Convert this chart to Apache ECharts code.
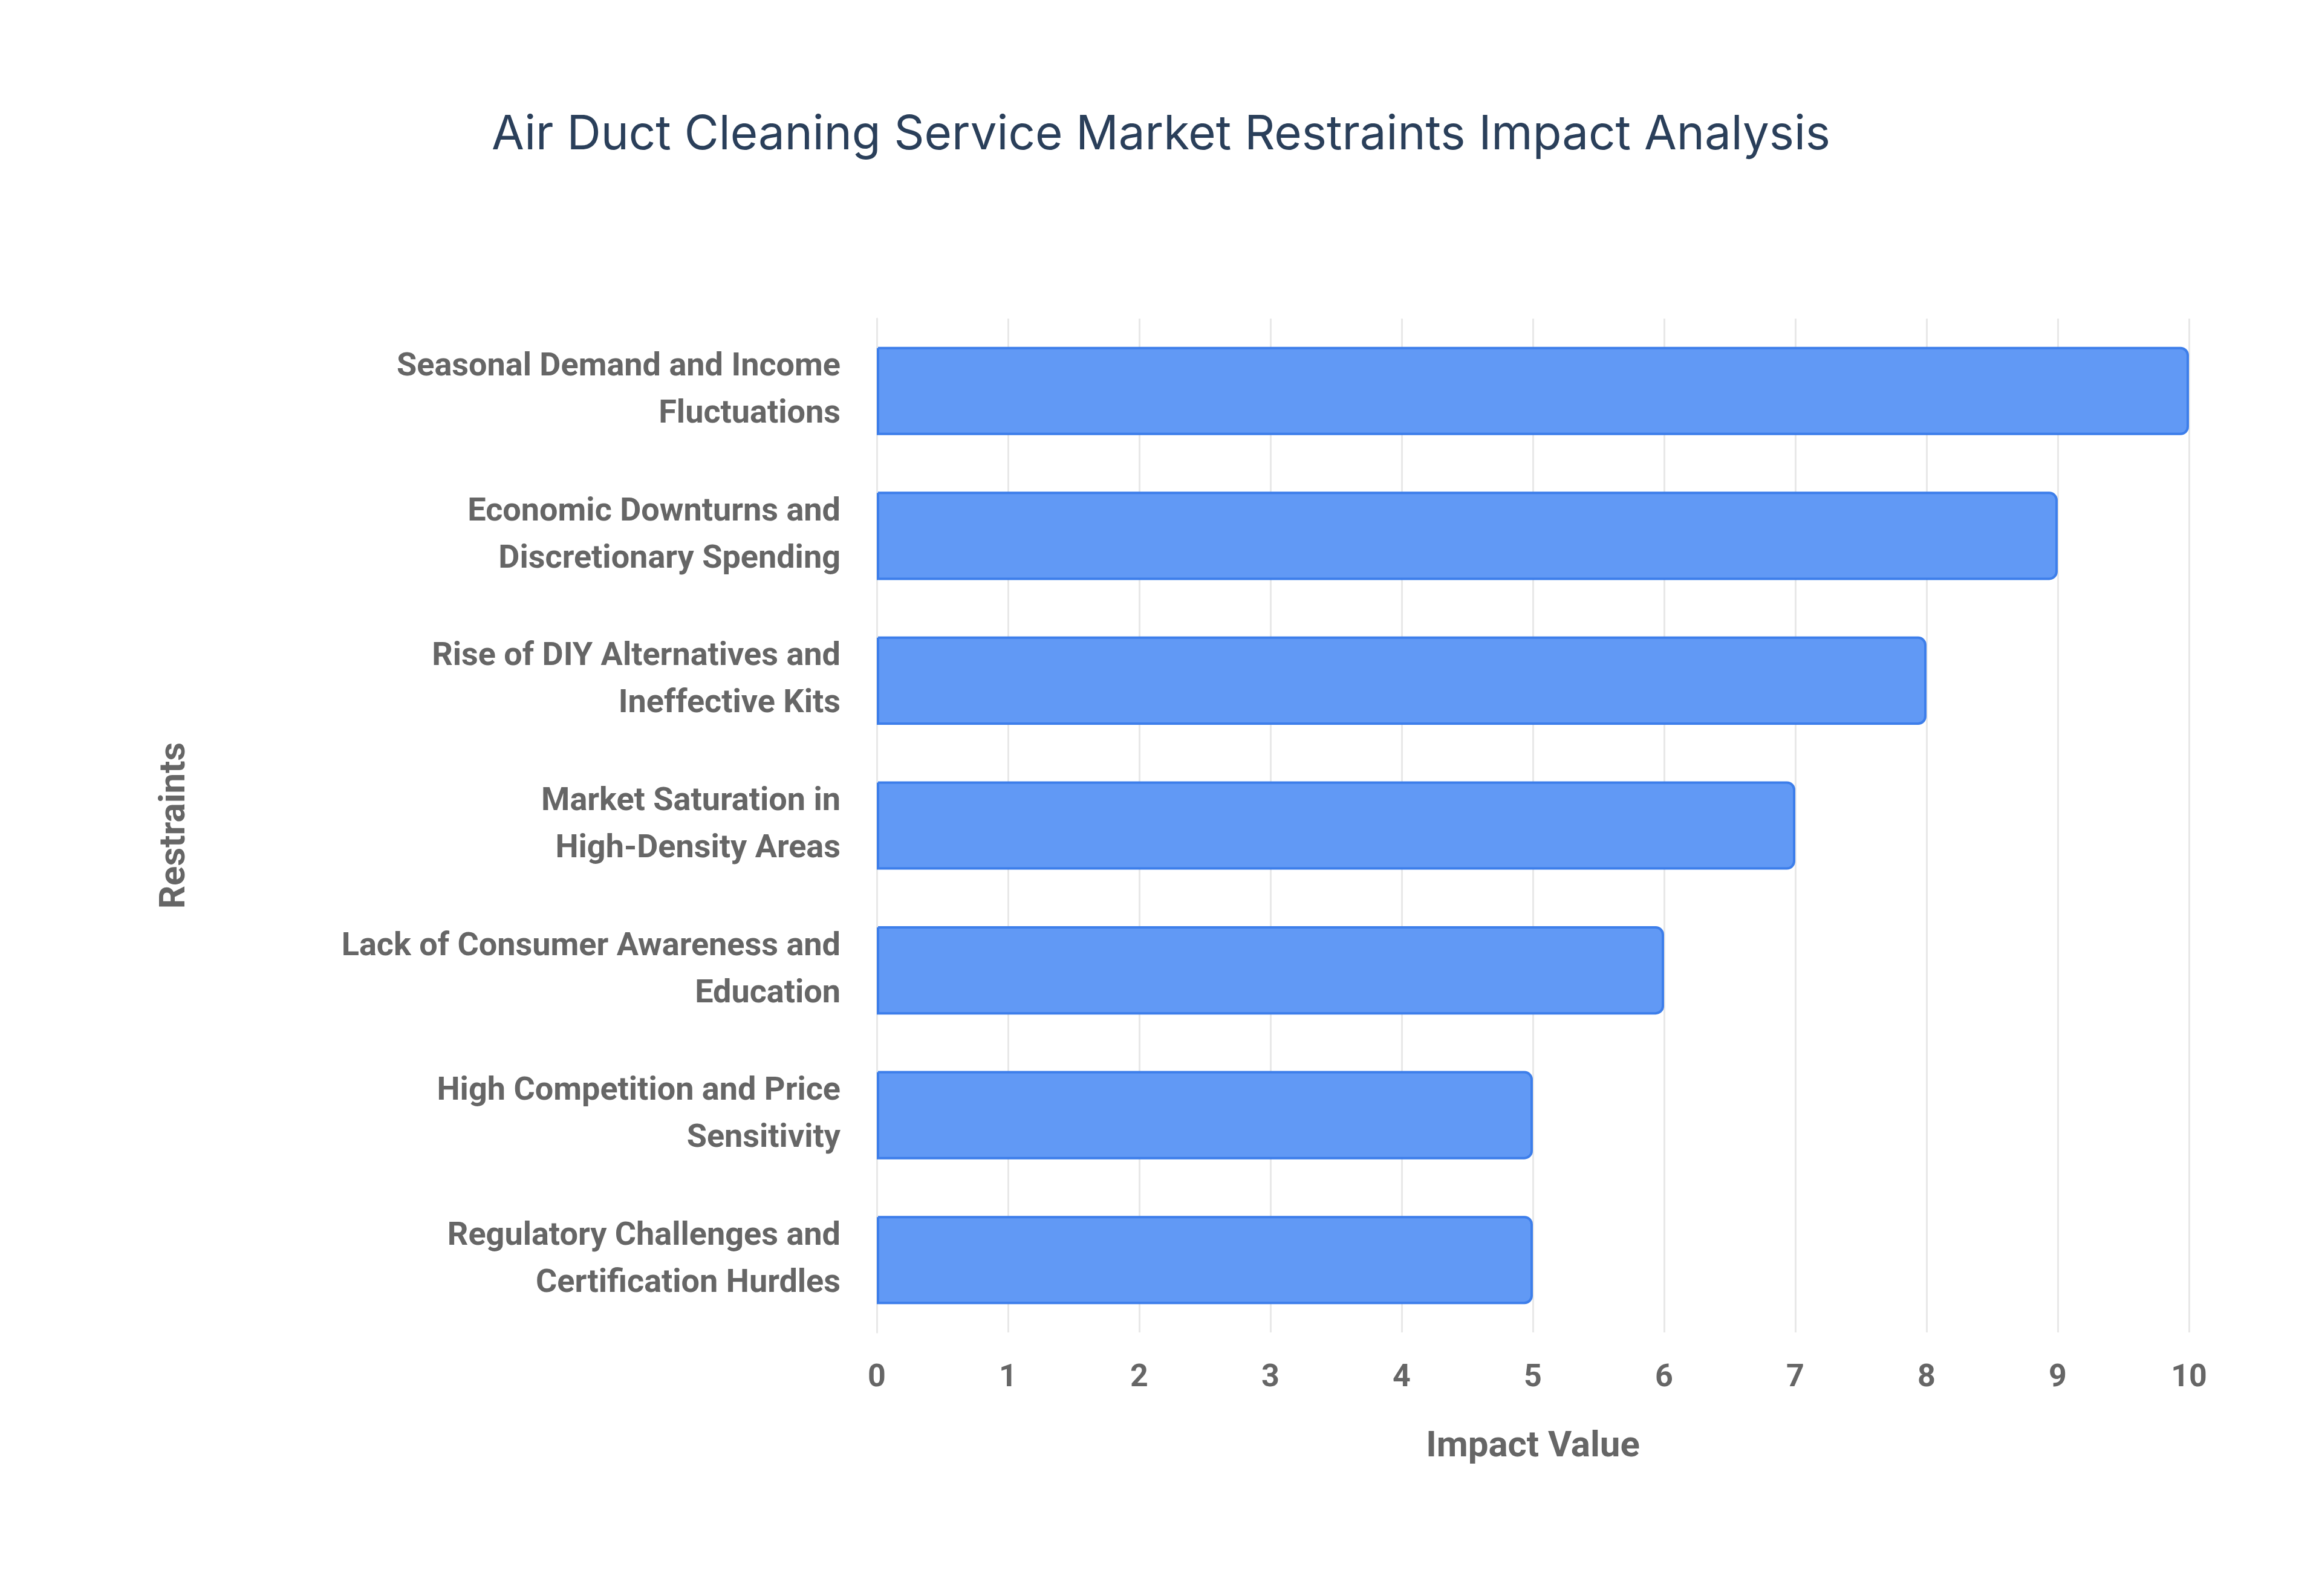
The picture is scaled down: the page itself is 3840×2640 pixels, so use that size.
<!DOCTYPE html>
<html><head><meta charset="utf-8">
<script src="https://cdn.jsdelivr.net/npm/echarts@6/dist/echarts.min.js"></script>
<style>html,body{margin:0;padding:0;background:#fff}#c{width:3840px;height:2640px}</style>
</head><body><div id="c"></div>
<script>
const categories = [
 "Regulatory Challenges and\nCertification Hurdles",
 "High Competition and Price\nSensitivity",
 "Lack of Consumer Awareness and\nEducation",
 "Market Saturation in\nHigh-Density Areas",
 "Rise of DIY Alternatives and\nIneffective Kits",
 "Economic Downturns and\nDiscretionary Spending",
 "Seasonal Demand and Income\nFluctuations"
];
const values = [5, 5, 6, 7, 8, 9, 10];
const chart = echarts.init(document.getElementById('c'));
chart.setOption({
 backgroundColor:'#fff',
 title:{text:'Air Duct Cleaning Service Market Restraints Impact Analysis',left:'center',top:180,
  textStyle:{fontFamily:'Inter',fontWeight:'normal',fontSize:78,color:'#2a3f5a'}},
 grid:{left:1450,right:220,top:527,bottom:436,containLabel:false},
 xAxis:{type:'value',min:0,max:10,interval:1,name:'Impact Value',nameLocation:'middle',nameGap:160,
  nameTextStyle:{fontFamily:'Roboto',fontWeight:'bold',fontSize:60,color:'#666'},
  axisLine:{show:false},axisTick:{show:false},
  axisLabel:{fontFamily:'Roboto',fontWeight:'bold',fontSize:52,color:'#666',margin:50},
  splitLine:{lineStyle:{color:'#e8e8e8',width:3}}},
 yAxis:{type:'category',data:categories,name:'Restraints',nameLocation:'middle',nameGap:1130,nameRotate:90,
  nameTextStyle:{fontFamily:'Roboto',fontWeight:'bold',fontSize:60,color:'#666'},
  axisLine:{show:true,lineStyle:{color:'#e8e8e8',width:3}},axisTick:{show:false},
  axisLabel:{fontFamily:'Roboto',fontWeight:'bold',fontSize:54,color:'#666',margin:60,lineHeight:78,align:'right'}},
 series:[{type:'bar',data:values,barWidth:'61%',
  itemStyle:{color:'#6199f5',borderColor:'#3d7eea',borderWidth:4,borderRadius:[0,12,12,0]}}]
});
</script></body></html>
